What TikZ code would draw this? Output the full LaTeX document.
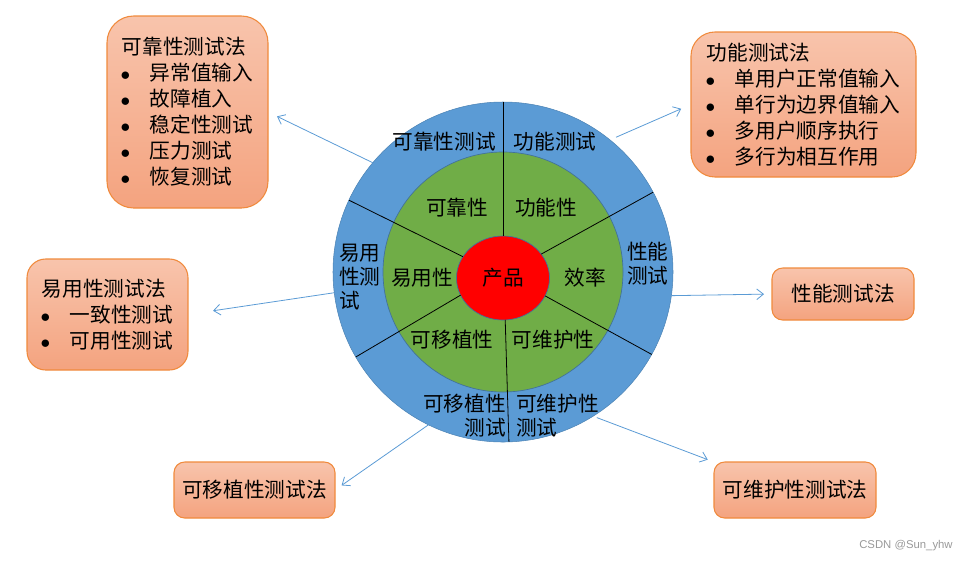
\documentclass[tikz,border=0pt]{standalone}
\usepackage{fontspec}
\setmainfont{Noto Sans CJK SC}
\newfontfamily\markfont{Liberation Sans}
\usetikzlibrary{shapes.geometric,arrows.meta,positioning,calc}

\definecolor{ringblue}{HTML}{5B9BD5}
\definecolor{ringgreen}{HTML}{70AD47}
\definecolor{edgeblue}{HTML}{41719C}
\definecolor{boxtop}{HTML}{F8C4AC}
\definecolor{boxbot}{HTML}{F4A37F}
\definecolor{boxedge}{HTML}{F08A3C}
\definecolor{arrowblue}{HTML}{5B9BD5}

\newcommand{\bitem}[1]{\makebox[21pt][l]{\kern-1pt$\bullet$}#1}

\begin{document}
\begin{tikzpicture}[
    x=0.75pt, y=-0.75pt,
    font=\fontsize{15.5}{19.5}\selectfont,
    methodbox/.style={draw=boxedge, top color=boxtop, bottom color=boxbot, line width=0.8pt, align=left, inner sep=0pt, outer sep=0pt},
    ringlabel/.style={inner sep=0pt, font=\fontsize{15.5}{18}\selectfont},
    spoke/.style={draw=black, line width=0.6pt},
    arrow/.style={-{Straight Barb[length=5pt,width=8pt]}, draw=arrowblue, line width=0.6pt}
]
    \useasboundingbox (0,0) rectangle (971,562);

    % Cercles : test, caracteristique, produit
    \node[circle, minimum size=255pt, fill=ringblue, draw=ringblue!85!black, line width=0.4pt, inner sep=0pt, outer sep=0pt] (outer) at (503,272) {};
    \node[circle, minimum size=180pt, fill=ringgreen, draw=edgeblue, line width=0.5pt, inner sep=0pt, outer sep=0pt] (inner) at (503,272) {};
    \node[ellipse, minimum width=69.75pt, minimum height=63pt, fill=red, draw=edgeblue, line width=0.5pt, inner sep=0pt, outer sep=0pt] (prod) at (503,278) {};
    \node[ringlabel] (prodlabel) at (503,278) {产品};

    % Rayons
    \draw[spoke] (prod.90) -- (outer.90);
    \draw[spoke] (prod.32) -- (outer.28);
    \draw[spoke] (prod.337) -- (outer.331);
    \draw[spoke] (prod.273) -- (outer.272);
    \draw[spoke] (prod.202) -- (outer.210);
    \draw[spoke] (prod.152) -- (outer.155);

    % Caracteristiques (anneau vert)
    \node[ringlabel] (c_rel) at (457,208) {可靠性};
    \node[ringlabel] (c_func) at (546,208) {功能性};
    \node[ringlabel] (c_use) at (422,278) {易用性};
    \node[ringlabel] (c_eff) at (585,278) {效率};
    \node[ringlabel] (c_port) at (452,340) {可移植性};
    \node[ringlabel] (c_maint) at (553,340) {可维护性};

    % Tests (anneau bleu)
    \node[ringlabel] (t_rel) at (444,142) {可靠性测试};
    \node[ringlabel] (t_func) at (555,142) {功能测试};
    \node[ringlabel, anchor=west, align=left] (t_use) at (339,277) {易用\\性测\\试};
    \node[ringlabel, anchor=west, align=left] (t_perf) at (627,264) {性能\\测试};
    \node[ringlabel, anchor=east, align=right] (t_port) at (506,416) {可移植性\\测试};
    \node[ringlabel, anchor=west, align=left] (t_maint) at (516,416) {可维护性\\测试};

    % Methodes de test
    \node[methodbox, rounded corners=20pt, minimum width=120.75pt, minimum height=144pt] (relbox) at (187.5,112) {
        可靠性测试法\\
        \bitem{异常值输入}\\
        \bitem{故障植入}\\
        \bitem{稳定性测试}\\
        \bitem{压力测试}\\
        \bitem{恢复测试}
    };
    \node[methodbox, rounded corners=18pt, minimum width=168.75pt, minimum height=108.75pt] (funcbox) at (803.5,104.5) {
        功能测试法\\
        \bitem{单用户正常值输入}\\
        \bitem{单行为边界值输入}\\
        \bitem{多用户顺序执行}\\
        \bitem{多行为相互作用}
    };
    \node[methodbox, rounded corners=14pt, minimum width=120.75pt, minimum height=83.25pt] (usebox) at (107.5,314.5) {
        易用性测试法\\
        \bitem{一致性测试}\\
        \bitem{可用性测试}
    };
    \node[methodbox, rounded corners=8pt, minimum width=106.5pt, minimum height=39pt] (perfbox) at (843,294) {性能测试法};
    \node[methodbox, rounded corners=8pt, minimum width=120.75pt, minimum height=42pt] (portbox) at (254.5,490) {可移植性测试法};
    \node[methodbox, rounded corners=8pt, minimum width=121.5pt, minimum height=42pt] (maintbox) at (795,490) {可维护性测试法};

    % Liaisons
    \draw[arrow, shorten >=7.5pt] (outer.140) -- (relbox.east);
    \draw[arrow, shorten <=5pt, shorten >=8pt] (outer.51) -- (funcbox.west);
    \draw[arrow, shorten >=19pt] (outer.187) -- (usebox.east);
    \draw[arrow, shorten >=6pt] (outer.352) -- (perfbox.west);
    \draw[arrow, shorten >=6pt] (outer.244) -- (portbox.east);
    \draw[arrow, shorten <=3pt, shorten >=5pt] (outer.302) -- (maintbox.north west);

    \node[font=\markfont\fontsize{8.5}{10}\selectfont, text=gray!80, inner sep=0pt] (mark) at (906,546) {CSDN @Sun\_yhw};

\end{tikzpicture}
\end{document}
